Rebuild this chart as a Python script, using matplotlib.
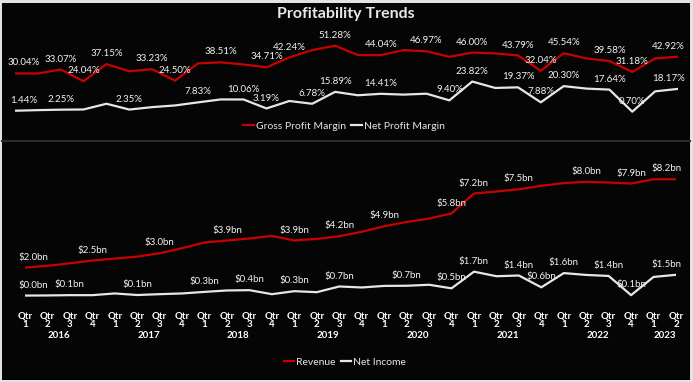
import matplotlib
matplotlib.use("Agg")
import matplotlib.pyplot as plt
import matplotlib.transforms as mtransforms
from matplotlib.patches import Rectangle
from matplotlib.lines import Line2D

plt.rcParams['font.family'] = ['Lato', 'DejaVu Sans']

years = ['2016', '2017', '2018', '2019', '2020', '2021', '2022', '2023']
quarters = [1, 2, 3, 4] * 7 + [1, 2]

gross_margin = [30.04, 30.0, 33.07, 24.04, 37.15, 31.7, 33.23, 24.50, 37.7, 38.51,
                36.9, 34.71, 42.24, 47.9, 51.28, 44.1, 44.04, 47.9, 46.97, 42.8,
                46.00, 45.4, 43.79, 32.04, 45.54, 41.5, 39.58, 31.18, 41.5, 42.92]
net_margin = [1.44, 1.9, 2.25, 2.4, 6.8, 2.35, 4.2, 5.5, 7.83, 10.1,
              10.06, 3.19, 8.9, 6.78, 15.89, 13.3, 14.41, 13.8, 14.5, 9.40,
              23.82, 18.9, 19.37, 7.88, 20.30, 18.4, 17.64, 0.70, 16.3, 18.17]
revenue = [2.0, 2.12, 2.30, 2.49, 2.63, 2.77, 3.0, 3.36, 3.76, 3.9,
           4.04, 4.22, 3.9, 4.01, 4.2, 4.51, 4.9, 5.2, 5.44, 5.8,
           7.2, 7.34, 7.5, 7.74, 7.93, 8.02, 7.97, 7.9, 8.2, 8.2]
net_income = [0.03, 0.04, 0.06, 0.06, 0.18, 0.07, 0.13, 0.18, 0.29, 0.39,
              0.41, 0.13, 0.34, 0.27, 0.67, 0.60, 0.71, 0.72, 0.79, 0.54,
              1.71, 1.39, 1.44, 0.61, 1.61, 1.48, 1.41, 0.06, 1.34, 1.49]

# which points get a data label (the rest were hidden in the original)
gross_lbl = [0, 2, 3, 4, 6, 7, 9, 11, 12, 14, 16, 18, 20, 22, 23, 24, 26, 27, 29]
net_lbl = [0, 2, 5, 8, 10, 11, 13, 14, 16, 19, 20, 22, 23, 24, 26, 27, 29]
rev_lbl = [0, 3, 6, 9, 12, 14, 16, 19, 20, 22, 25, 27, 29]
ni_lbl = [0, 2, 5, 8, 10, 12, 14, 17, 19, 20, 22, 23, 24, 26, 27, 29]

RED = '#c80000'
WHITE = '#e6e6e6'
TXT = '#f2f2f2'
W, H = 693, 382

fig = plt.figure(figsize=(W / 100, H / 100), dpi=100)
fig.patch.set_facecolor('#e3e3e3')
fig.add_artist(Rectangle((2 / W, 2 / H), 688 / W, 377 / H, transform=fig.transFigure,
                         facecolor='#050505', edgecolor='none', zorder=0))
fig.add_artist(Line2D([2 / W, 690 / W], [241 / H, 241 / H], transform=fig.transFigure,
                      color='#2b2b2b', lw=1.5, zorder=1))

fig.text(346 / W, 1 - 14 / H, 'Profitability Trends', ha='center', va='center',
         fontsize=11.5, fontweight='bold', color='#e8e8e8')

x = list(range(len(quarters)))


def put_labels(ax, vals, idx, fmt):
    for i in idx:
        dx = 0
        if i == 0:
            dx = 6
        elif i == len(vals) - 1:
            dx = -7
        ax.annotate(fmt(vals[i]), (i, vals[i]), xytext=(dx, 7.5), textcoords='offset points',
                    ha='center', va='center', fontsize=7, color=TXT, clip_on=False)


def clean(ax):
    ax.set_facecolor('none')
    for s in ax.spines.values():
        s.set_visible(False)
    ax.set_xlim(0, 29)
    ax.tick_params(length=0)
    ax.set_yticks([])


# top panel: margins
ax1 = fig.add_axes([15 / W, 267 / H, 663 / W, 75 / H])
clean(ax1)
ax1.set_ylim(-1.83, 55.65)
ax1.set_xticks([])
ax1.plot(x, gross_margin, color=RED, lw=1.6, label='Gross Profit Margin')
ax1.plot(x, net_margin, color=WHITE, lw=1.6, label='Net Profit Margin')
put_labels(ax1, gross_margin, gross_lbl, lambda v: f'{v:.2f}%')
put_labels(ax1, net_margin, net_lbl, lambda v: f'{v:.2f}%')

# bottom panel: revenue and net income
ax2 = fig.add_axes([25 / W, 82 / H, 651 / W, 130 / H])
clean(ax2)
ax2.set_ylim(-0.28, 8.85)
ax2.plot(x, revenue, color=RED, lw=1.6, label='Revenue')
ax2.plot(x, net_income, color=WHITE, lw=1.6, label='Net Income')
put_labels(ax2, revenue, rev_lbl, lambda v: f'${v:.1f}bn')
put_labels(ax2, net_income, ni_lbl, lambda v: f'${v:.1f}bn')

ax2.set_xticks(x, [f'Qtr\n{q}' for q in quarters], fontsize=7, fontweight='bold',
               color='white', linespacing=1.05)
ax2.tick_params(axis='x', pad=8)
trans = mtransforms.blended_transform_factory(ax2.transData, fig.transFigure)
for k, yr in enumerate(years):
    pos = [i for i in x if i // 4 == k]
    ax2.text(sum(pos) / len(pos), 1 - 336 / H, yr, transform=trans, ha='center', va='center',
             fontsize=7, fontweight='bold', color='white')

leg_kw = dict(ncol=2, frameon=False, fontsize=7.5, handlelength=1.0, handletextpad=0.2,
              columnspacing=0.5, labelcolor='#e6e6e6', loc='center')
fig.legend(*ax1.get_legend_handles_labels(), bbox_to_anchor=(344 / W, 1 - 126 / H), **leg_kw)
fig.legend(*ax2.get_legend_handles_labels(), bbox_to_anchor=(345 / W, 1 - 362 / H), **leg_kw)

fig.savefig('out.png', dpi=100, facecolor=fig.get_facecolor())
